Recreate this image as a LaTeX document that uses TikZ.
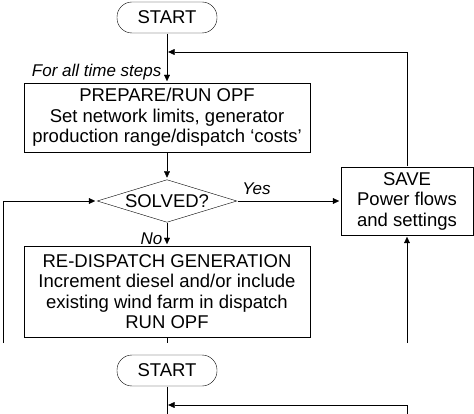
\documentclass[tikz,border=0pt]{standalone}
\usepackage{fontspec}
\setmainfont{Liberation Sans}
\usetikzlibrary{shapes.geometric}
\usetikzlibrary{arrows.meta}
\usetikzlibrary{positioning}

\begin{document}
\begin{tikzpicture}[x=1pt,y=-1pt]
      \tikzset{
        >={Triangle[length=8pt,width=7pt]},
        line width=1.3pt,
        every node/.style={font=\fontsize{18.5}{20.5}\selectfont},
        process/.style={draw, rectangle, align=center, inner sep=0pt},
        terminal/.style={draw, rectangle, rounded corners=15pt,
          minimum width=100pt, minimum height=31pt, inner sep=0pt},
        decision/.style={draw, diamond, aspect=3.26, inner sep=0pt,
          minimum width=140pt, minimum height=43pt},
        tag/.style={font=\fontsize{17}{19}\selectfont\itshape, inner sep=0pt},
      }
      \useasboundingbox (0,0) rectangle (474,414);

      \node[terminal] (start) at (167,17.5) {START};
      \node[process, minimum width=286pt, minimum height=69pt] (prep) at (167,117.5)
        {PREPARE/RUN OPF\\Set network limits, generator\\production range/dispatch `costs'};
      \node[decision] (solved) at (167,201) {SOLVED?};
      \node[process, minimum width=286pt, minimum height=91pt] (redisp) at (167,291.5)
        {RE-DISPATCH GENERATION\\Increment diesel and/or include\\existing wind farm in dispatch\\RUN OPF};
      \node[process, minimum width=132pt, minimum height=68pt] (save) at (407,201)
        {SAVE\\Power flows\\and settings};

      % loose ends where the picture is cut
      \coordinate (loop) at (167,52);
      \coordinate (cutL) at (3,343);
      \coordinate (cutM) at (167,343);
      \coordinate (cutR) at (407,343);

      \draw[->] (start) -- node[tag, pos=0.88, anchor=base east, xshift=-5pt] {For all time steps} (prep);
      \draw[->] (save.north) |- (loop);
      \draw[->] (prep) -- (solved);
      \draw[->] (solved) -- (save);
      \node[tag, above right=6pt and 4pt of solved.east] (yes) {Yes};
      \draw[->] (solved) -- (redisp);
      \node[tag, below left=9pt and 4pt of solved.south] (no) {No};
      \draw[->] (cutL) |- (solved.west);
      \draw (redisp) -- (cutM);
      \draw[->] (cutR) -- (save);

      % repeated top of the chart
      \node[terminal] (start2) at (167,370.5) {START};
      \coordinate (loop2) at (167,405);
      \coordinate (endM) at (167,414);
      \coordinate (endR) at (407,414);
      \draw (start2) -- (endM);
      \draw[->] (endR) |- (loop2);
\end{tikzpicture}
\end{document}
